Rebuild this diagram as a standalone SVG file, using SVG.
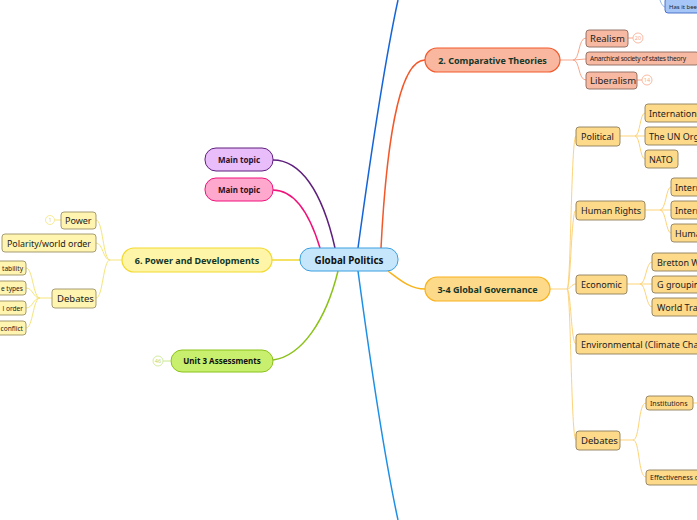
<svg xmlns="http://www.w3.org/2000/svg" width="697" height="520" viewBox="0 0 697 520">
<style>
text{font-family:"Noto Sans","Open Sans","DejaVu Sans",sans-serif;}
.mt{font-size:9px;font-weight:bold;fill:#13382a;text-anchor:middle;}
.st{font-size:9px;fill:#222;}
.sm{font-size:6.6px;fill:#222;}
.gov{fill:#fdd98a;stroke:#8e7f5c;stroke-width:0.9;}
.pow{fill:#fff4b0;stroke:#9b9268;stroke-width:0.9;}
.cmp{fill:#f8b9a2;stroke:#8d6a5e;stroke-width:0.9;}
.lg{fill:none;stroke:#fdd37a;stroke-width:1;}
.lp{fill:none;stroke:#f5e47a;stroke-width:1;}
.lc{fill:none;stroke:#f7a88c;stroke-width:1;}
.num{font-size:5.5px;text-anchor:middle;}
</style>
<rect width="697" height="520" fill="#ffffff"/>
<g id="connectors">
  <path d="M358,248 C370,160 385,60 398,0" fill="none" stroke="#1565d8" stroke-width="1.5"/>
  <path d="M358,271 C370,360 385,460 398,520" fill="none" stroke="#1e8fe6" stroke-width="1.5"/>
  <path d="M381,248 C386,150 398,60 425,60" fill="none" stroke="#f3582a" stroke-width="1.5"/>
  <path d="M388,271 C400,280 410,289 425,289" fill="none" stroke="#f8b21a" stroke-width="1.5"/>
  <path d="M300,260 L272,260" fill="none" stroke="#f2d92e" stroke-width="1.5"/>
  <path d="M273,160 C300,160 322,190 335,248" fill="none" stroke="#5e1f7d" stroke-width="1.5"/>
  <path d="M273,190 C296,190 310,215 320,248" fill="none" stroke="#f0117a" stroke-width="1.5"/>
  <path d="M273,360 C302,356 326,320 338,271" fill="none" stroke="#8bc21a" stroke-width="1.5"/>
  <path d="M560,60 L573,60" class="lc" stroke-width="1.3"/>
  <path d="M573,60 C580,60 578,38 586,38" class="lc"/>
  <path d="M573,60 L586,59" class="lc"/>
  <path d="M573,60 C580,60 578,80 586,80" class="lc"/>
  <path d="M628,38 L633,38" class="lc"/>
  <path d="M637,80 L642,80" class="lc"/>
  <path d="M660,0 C662,6 664,7 666,7" fill="none" stroke="#8fb4ee" stroke-width="1"/>
  <path d="M550,289 L567,289" class="lg" stroke-width="1.3"/>
  <path d="M567,289 C571,289 571,136 576,136" class="lg"/>
  <path d="M567,289 C571,289 571,210 576,210" class="lg"/>
  <path d="M567,289 C571,289 571,284 576,284" class="lg"/>
  <path d="M567,289 C571,289 571,344 576,344" class="lg"/>
  <path d="M567,289 C571,289 571,440 576,440" class="lg"/>
  <path d="M620,136 L635,136" class="lg" stroke-width="1.3"/>
  <path d="M635,136 C640,136 640,113 645,113" class="lg"/>
  <path d="M635,136 L645,136" class="lg"/>
  <path d="M635,136 C640,136 640,159 645,159" class="lg"/>
  <path d="M645,210 L660,210" class="lg" stroke-width="1.3"/>
  <path d="M660,210 C666,210 666,187 671,187" class="lg"/>
  <path d="M660,210 L671,210" class="lg"/>
  <path d="M660,210 C666,210 666,233 671,233" class="lg"/>
  <path d="M627,284 L640,284" class="lg" stroke-width="1.3"/>
  <path d="M640,284 C646,284 646,262 652,262" class="lg"/>
  <path d="M640,284 L652,284" class="lg"/>
  <path d="M640,284 C646,284 646,307 652,307" class="lg"/>
  <path d="M620,440 L633,440" class="lg" stroke-width="1.3"/>
  <path d="M633,440 C640,440 638,403 646,403" class="lg"/>
  <path d="M633,440 C640,440 638,477 646,477" class="lg"/>
  <path d="M693,403 L697,403" class="lg"/>
  <path d="M122,260 L110,260" class="lp" stroke-width="1.3"/>
  <path d="M110,260 C103,260 103,220 96,220" class="lp"/>
  <path d="M110,260 C103,260 103,243 96,243" class="lp"/>
  <path d="M110,260 C103,260 103,298 96,298" class="lp"/>
  <path d="M61,220 L55,220" class="lp"/>
  <path d="M52,298 L40,298" class="lp" stroke-width="1.3"/>
  <path d="M40,298 C33,298 33,268 26,268" class="lp"/>
  <path d="M40,298 C33,298 33,288 26,288" class="lp"/>
  <path d="M40,298 C33,298 33,308 26,308" class="lp"/>
  <path d="M40,298 C33,298 33,328 26,328" class="lp"/>
</g>
<g id="central">
  <rect x="300" y="248" width="98" height="23" rx="11" fill="#c6e7fb" stroke="#3b9fe0" stroke-width="1"/>
  <text x="349" y="263.5" class="mt" style="font-size:9.8px;fill:#111">Global Politics</text>
</g>
<g id="comparative">
  <rect x="425" y="48" width="135" height="24" rx="12" fill="#f9b7a0" stroke="#f3582a" stroke-width="1.2"/>
  <text x="492.5" y="63.5" class="mt">2. Comparative Theories</text>
</g>
<g id="realism">
  <rect x="586" y="30" width="42" height="17" rx="3" class="cmp"/>
  <text x="590" y="42" class="st" style="font-size:9.5px">Realism</text>
  <circle cx="638" cy="38" r="5" fill="#fff" stroke="#f7a88c" stroke-width="0.8"/>
  <text x="638" y="40" class="num" fill="#f7a88c">20</text>
</g>
<g id="anarchical">
  <rect x="586" y="52" width="113" height="13" rx="3" class="cmp"/>
  <text x="590" y="61" class="sm" textLength="96" lengthAdjust="spacing">Anarchical society of states theory</text>
</g>
<g id="liberalism">
  <rect x="586" y="72" width="51" height="17" rx="3" class="cmp"/>
  <text x="590" y="84" class="st" style="font-size:9.5px">Liberalism</text>
  <circle cx="647" cy="80" r="5" fill="#fff" stroke="#f7a88c" stroke-width="0.8"/>
  <text x="647" y="82" class="num" fill="#f7a88c">14</text>
</g>
<g id="hasit">
  <rect x="665" y="-2" width="40" height="15" rx="3" fill="#a6c6f7" stroke="#3a67c2" stroke-width="0.9"/>
  <text x="669" y="9" class="sm" style="font-size:6px">Has it been</text>
</g>
<g id="governance">
  <rect x="425" y="277" width="125" height="24" rx="12" fill="#fdd98a" stroke="#f8b21a" stroke-width="1.2"/>
  <text x="487.5" y="292.5" class="mt">3-4 Global Governance</text>
</g>
<g id="political">
  <rect x="576" y="127" width="44" height="19" rx="3" class="gov"/>
  <text x="581" y="140" class="st">Political</text>
</g>
<g id="international1">
  <rect x="645" y="104" width="60" height="18" rx="3" class="gov"/>
  <text x="649" y="116.5" class="st">International</text>
</g>
<g id="unorg">
  <rect x="645" y="127" width="60" height="18" rx="3" class="gov"/>
  <text x="649" y="139.5" class="st">The UN Organisation</text>
</g>
<g id="nato">
  <rect x="645" y="150" width="33" height="18" rx="3" class="gov"/>
  <text x="649" y="162.5" class="st">NATO</text>
</g>
<g id="humanrights">
  <rect x="576" y="201" width="69" height="19" rx="3" class="gov"/>
  <text x="581" y="214" class="st">Human Rights</text>
</g>
<g id="hr1">
  <rect x="671" y="178" width="40" height="18" rx="3" class="gov"/>
  <text x="675" y="190.5" class="st">International</text>
</g>
<g id="hr2">
  <rect x="671" y="201" width="40" height="18" rx="3" class="gov"/>
  <text x="675" y="213.5" class="st">International</text>
</g>
<g id="hr3">
  <rect x="671" y="224" width="40" height="18" rx="3" class="gov"/>
  <text x="675" y="236.5" class="st">Human</text>
</g>
<g id="economic">
  <rect x="576" y="275" width="51" height="19" rx="3" class="gov"/>
  <text x="581" y="288" class="st">Economic</text>
</g>
<g id="bretton">
  <rect x="652" y="253" width="60" height="18" rx="3" class="gov"/>
  <text x="657" y="265.5" class="st">Bretton Woods</text>
</g>
<g id="ggroup">
  <rect x="652" y="276" width="60" height="17" rx="3" class="gov"/>
  <text x="657" y="288" class="st">G groupings</text>
</g>
<g id="wto">
  <rect x="652" y="298" width="60" height="18" rx="3" class="gov"/>
  <text x="657" y="310.5" class="st">World Trade</text>
</g>
<g id="environmental">
  <rect x="576" y="334" width="130" height="20" rx="3" class="gov"/>
  <text x="581" y="347.5" class="st">Environmental (Climate Change)</text>
</g>
<g id="govdebates">
  <rect x="576" y="431" width="44" height="19" rx="3" class="gov"/>
  <text x="581" y="444" class="st" style="font-size:9.5px">Debates</text>
</g>
<g id="institutions">
  <rect x="646" y="396" width="47" height="14" rx="3" class="gov"/>
  <text x="650" y="405.5" class="sm" style="font-size:7px">Institutions</text>
</g>
<g id="effectiveness">
  <rect x="646" y="470" width="60" height="15" rx="3" class="gov"/>
  <text x="650" y="480" class="sm" style="font-size:7px">Effectiveness of</text>
</g>
<g id="power-dev">
  <rect x="122" y="248" width="150" height="24" rx="12" fill="#fff5a8" stroke="#f2d92e" stroke-width="1.2"/>
  <text x="197" y="263.5" class="mt">6. Power and Developments</text>
</g>
<g id="power">
  <rect x="61" y="212" width="35" height="17" rx="3" class="pow"/>
  <text x="65" y="224" class="st">Power</text>
  <circle cx="50" cy="220" r="4.5" fill="#fff" stroke="#f5e47a" stroke-width="0.8"/>
  <text x="50" y="222" class="num" fill="#e8d860">1</text>
</g>
<g id="polarity">
  <rect x="2" y="234" width="94" height="18" rx="3" class="pow"/>
  <text x="7" y="246.5" class="st" textLength="84" lengthAdjust="spacingAndGlyphs">Polarity/world order</text>
</g>
<g id="powdebates">
  <rect x="52" y="289" width="44" height="19" rx="3" class="pow"/>
  <text x="57" y="302" class="st" style="font-size:9.5px">Debates</text>
</g>
<g id="pd1">
  <rect x="-20" y="261" width="46" height="14" rx="3" class="pow"/>
  <text x="23" y="270.5" class="sm" text-anchor="end">tability</text>
</g>
<g id="pd2">
  <rect x="-20" y="281" width="46" height="14" rx="3" class="pow"/>
  <text x="23" y="290.5" class="sm" text-anchor="end">e types</text>
</g>
<g id="pd3">
  <rect x="-20" y="301" width="46" height="14" rx="3" class="pow"/>
  <text x="23" y="310.5" class="sm" text-anchor="end">l order</text>
</g>
<g id="pd4">
  <rect x="-20" y="321" width="46" height="14" rx="3" class="pow"/>
  <text x="23" y="330.5" class="sm" text-anchor="end">conflict</text>
</g>
<g id="main-topic-purple">
  <rect x="205" y="148" width="68" height="23" rx="11" fill="#e9bdf9" stroke="#5e1f7d" stroke-width="1"/>
  <text x="239" y="162.5" class="mt" style="font-size:8px;fill:#2a1030">Main topic</text>
</g>
<g id="main-topic-pink">
  <rect x="205" y="178" width="68" height="23" rx="11" fill="#ffa8cd" stroke="#f0117a" stroke-width="1"/>
  <text x="239" y="192.5" class="mt" style="font-size:8px;fill:#2a1020">Main topic</text>
</g>
<g id="unit3">
  <rect x="171" y="350" width="102" height="22" rx="11" fill="#c8f06e" stroke="#8bc21a" stroke-width="1"/>
  <text x="222" y="364" class="mt" style="font-size:8px;fill:#111">Unit 3 Assessments</text>
  <path d="M163,361 L171,361" stroke="#c8e68a" stroke-width="1"/>
  <circle cx="158" cy="361" r="5" fill="#fff" stroke="#c8e68a" stroke-width="0.8"/>
  <text x="158" y="363" class="num" fill="#b8d670">46</text>
</g>
</svg>
